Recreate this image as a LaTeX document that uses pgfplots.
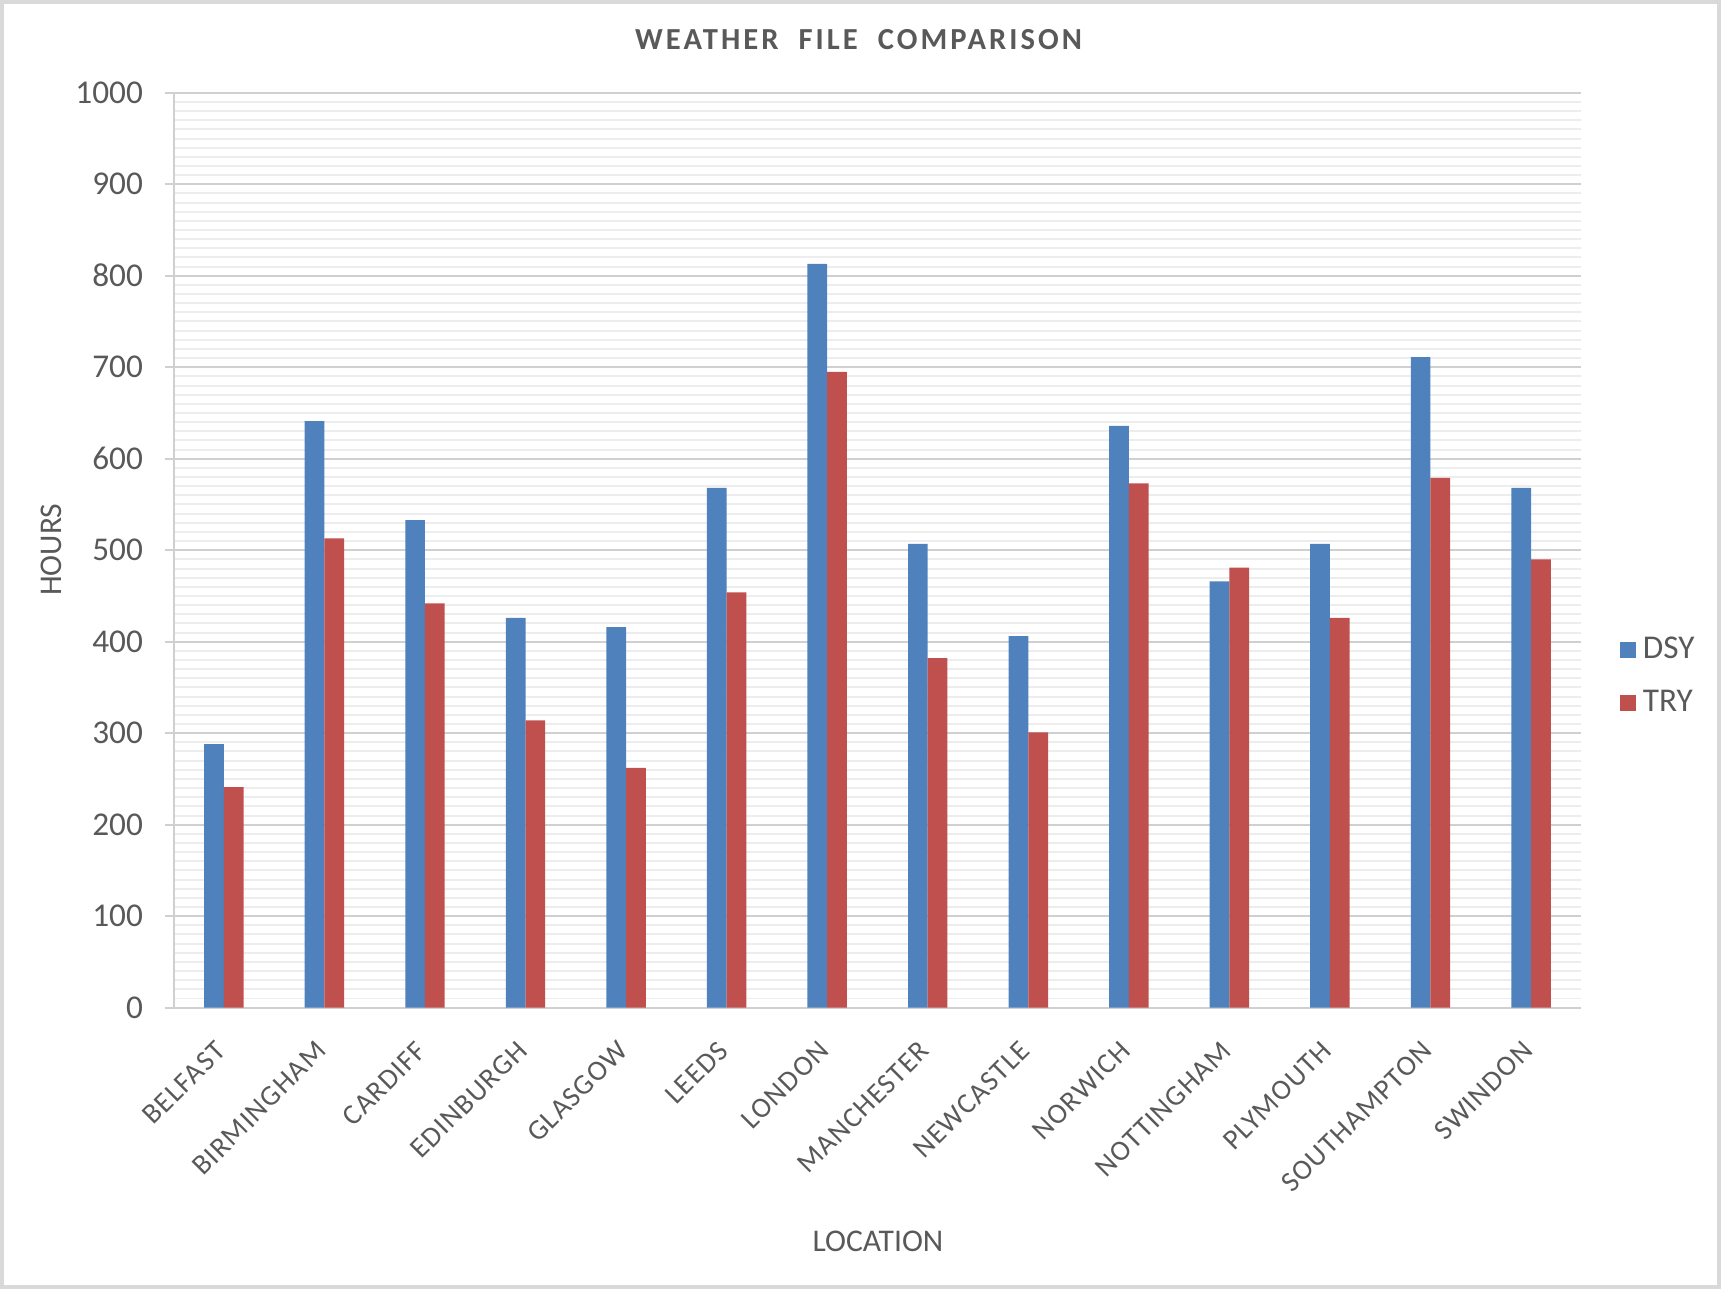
\documentclass[border=0pt]{standalone}
\usepackage{fontspec}
\setmainfont{Carlito}
\usepackage{pgfplots}
\pgfplotsset{compat=1.18}
\usepackage{pgfplotstable}

\definecolor{dsyblue}{HTML}{4F81BD}
\definecolor{tryred}{HTML}{C0504D}
\definecolor{txtgray}{HTML}{595959}
\definecolor{majgrid}{HTML}{D0D0D0}
\definecolor{mingrid}{HTML}{EDEDED}
\definecolor{frame}{HTML}{D9D9D9}

% x = category index
\pgfplotstableread{
x dsy try
0  288 241
1  641 513
2  533 442
3  426 314
4  416 262
5  568 454
6  813 695
7  507 382
8  406 301
9  636 573
10 466 481
11 507 426
12 711 579
13 568 490
}\weather

\begin{document}
\begin{tikzpicture}
\draw[frame, line width=1.2pt] (-51.6pt,-84pt) rectangle (464.7pt,302.4pt);
\useasboundingbox (-51.6pt,-84pt) rectangle (464.7pt,302.4pt);
\begin{axis}[
  at={(0,0)}, anchor=south west,
  scale only axis,
  width=423.3pt, height=275.1pt,
  ybar=0pt, bar width=5.93pt,
  xmin=-0.5, xmax=13.5,
  ymin=0, ymax=1000,
  xtick=data,
  xticklabels={BELFAST,BIRMINGHAM,CARDIFF,EDINBURGH,GLASGOW,LEEDS,LONDON,MANCHESTER,NEWCASTLE,NORWICH,NOTTINGHAM,PLYMOUTH,SOUTHAMPTON,SWINDON},
  xticklabel style={xshift=1.5pt, yshift=-6.4pt, rotate=45, anchor=east, font=\fontsize{8.6}{10}\selectfont\addfontfeatures{LetterSpace=4}, text=txtgray},
  xtick style={draw=none},
  ytick={0,100,...,1000},
  minor y tick num=9,
  ymajorgrids, yminorgrids,
  major grid style={majgrid, line width=0.6pt},
  minor grid style={mingrid, line width=0.6pt},
  axis x line*=bottom, axis y line*=left,
  axis line style={majgrid, line width=0.6pt, -},
  tick align=outside,
  major tick length=2.7pt, minor tick length=0pt,
  ytick style={majgrid, line width=0.6pt},
  yticklabel style={font=\fontsize{10}{12}\selectfont, text=txtgray, xshift=-3pt},
  /pgf/number format/assume math mode=true,
  /pgf/number format/1000 sep={},
  legend style={at={(1.027,0.362)}, anchor=west, draw=none, fill=none,
    font=\fontsize{10}{12}\selectfont, text=txtgray, row sep=4pt,
    inner sep=0pt, legend cell align=left},
]
\addplot[fill=dsyblue, draw=none,
  legend image code/.code={\fill[dsyblue] (0pt,-2.45pt) rectangle (4.9pt,2.45pt);}]
  table[x=x, y=dsy] {\weather};
\addlegendentry{DSY}
\addplot[fill=tryred, draw=none,
  legend image code/.code={\fill[tryred] (0pt,-2.45pt) rectangle (4.9pt,2.45pt);}]
  table[x=x, y=try] {\weather};
\addlegendentry{TRY}
\end{axis}
\node[text=txtgray, font=\fontsize{9.2}{11}\selectfont\bfseries\addfontfeatures{LetterSpace=10}] at (206pt,291pt) {WEATHER\ \ FILE\ \ COMPARISON};
\node[text=txtgray, font=\fontsize{9.5}{11}\selectfont, rotate=90] at (-36.9pt,137.7pt) {HOURS};
\node[text=txtgray, font=\fontsize{9.5}{11}\selectfont] at (211.8pt,-70.2pt) {LOCATION};
\end{tikzpicture}
\end{document}
